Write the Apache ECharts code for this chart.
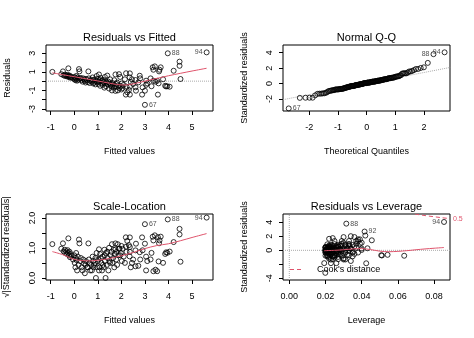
<!DOCTYPE html>
<html><head><meta charset="utf-8">
<script src="https://cdn.jsdelivr.net/npm/echarts@6/dist/echarts.min.js"></script>
<style>html,body{margin:0;padding:0;background:#fff}#c{width:474px;height:338px}</style>
</head><body><div id="c"></div>
<script>
const fittedValues = [
 -0.93,-0.55,-0.48,-0.45,-0.40,-0.38,-0.33,-0.30,-0.28,-0.25,
 -0.25,-0.22,-0.20,-0.18,-0.15,-0.12,-0.05, 0.00, 0.02, 0.05,
  0.05, 0.08, 0.10, 0.12, 0.15, 0.18, 0.20, 0.22, 0.25, 0.28,
  0.32, 0.35, 0.38, 0.42, 0.45, 0.48, 0.50, 0.55, 0.58, 0.60,
  0.62, 0.65, 0.68, 0.72, 0.75, 0.78, 0.80, 0.82, 0.85, 0.88,
  0.90, 0.92, 0.95, 0.97, 1.00, 1.02, 1.05, 1.05, 1.08, 1.10,
  1.12, 1.15, 1.18, 1.20, 1.22, 1.25, 3.00, 1.30, 1.30, 1.33,
  1.35, 1.38, 1.40, 1.42, 1.45, 1.48, 1.50, 1.52, 1.55, 1.58,
  1.60, 1.62, 1.65, 1.68, 1.70, 1.72, 1.75, 3.97, 1.78, 1.80,
  1.82, 4.47, 1.88, 5.62, 1.92, 1.95, 1.98, 2.00, 2.02, 2.05,
  2.10, 2.15, 2.20, 2.22, 2.25, 2.36, 2.35, 2.36, 2.36, 2.19,
  2.60, 2.60, 2.62, 2.78, 2.80, 2.72, 2.90, 2.88, 3.00, 1.28,
  3.24, 3.36, 3.45, 3.52, 3.58, 3.33, 3.36, 3.42, 3.67, 3.62,
  3.55, 3.86, 3.95, 3.90, 1.75, 4.22, 1.85, 4.47, 4.51, 1.90,
  3.05, 3.10, 2.50, 3.77, 3.60, 3.05, 2.45, 3.28, 4.05, 2.40,
  2.32
];
const residuals = [
  1.00, 0.75, 1.05, 0.62, 0.70, 0.55, 0.62, 0.50, 0.68, 1.38,
  0.55, 0.45, 0.60, 0.38, 0.50, 0.42, 0.30, 0.45, 0.20, 0.35,
  0.10, 0.55, 0.28, 0.05, 0.40, 0.15, 1.30, 1.05, 0.25, 0.35,
  0.10,-0.05, 0.30, 0.18, 0.02,-0.15, 0.25, 0.10,-0.10, 1.05,
  0.30,-0.20, 0.05, 0.15,-0.05, 0.40,-0.25, 0.10,-0.15, 0.20,
 -0.35, 0.00, 0.55,-0.10, 0.25,-0.30, 0.72,-0.05, 0.10,-0.50,
  0.35,-0.20, 0.05,-0.40, 0.15,-0.10,-2.55, 0.45,-0.25, 0.00,
 -0.55,-0.15, 0.60,-0.35,-0.05,-0.80,-0.25, 0.20,-0.45,-0.60,
 -1.00,-0.20,-0.35,-0.70, 0.10,-0.50, 0.72, 3.00,-0.30,-0.60,
 -0.15, 2.10,-0.45, 3.10,-0.75, 0.45,-0.55,-0.90,-0.25,-0.75,
 -0.40, 0.20, 0.85,-0.60,-1.20, 0.84, 0.41,-0.60,-1.45,-1.45,
  0.12,-0.67,-1.03, 0.58, 0.30,-0.13,-0.67,-1.45,-1.03,-0.70,
  0.30, 0.04,-0.06, 0.04,-0.24, 1.49, 1.23, 1.59, 1.49, 1.23,
 -1.45,-0.50,-0.55,-0.57,-1.05, 1.12,-1.00, 1.65, 0.23, 0.75,
 -0.40,-0.25,-0.30, 0.20, 1.05, 0.05, 0.20,-0.55,-0.60,-0.10,
 -0.95
];
const leverage = [
 0.038,0.029,0.033,0.027,0.025,0.031,0.023,0.026,0.021,0.024,
 0.028,0.022,0.035,0.020,0.024,0.027,0.021,0.023,0.030,0.020,
 0.025,0.022,0.032,0.021,0.026,0.023,0.022,0.029,0.020,0.024,
 0.027,0.021,0.023,0.034,0.020,0.025,0.022,0.028,0.021,0.025,
 0.020,0.023,0.026,0.021,0.031,0.022,0.020,0.024,0.027,0.021,
 0.023,0.020,0.029,0.022,0.025,0.021,0.033,0.020,0.023,0.026,
 0.021,0.024,0.020,0.022,0.028,0.021,0.0199,0.036,0.020,0.023,
 0.021,0.026,0.031,0.022,0.020,0.025,0.021,0.034,0.023,0.020,
 0.027,0.022,0.030,0.021,0.024,0.032,0.037,0.0315,0.026,0.021,
 0.035,0.0416,0.028,0.0855,0.022,0.033,0.025,0.030,0.038,0.027,
 0.036,0.032,0.040,0.029,0.034,0.030,0.027,0.025,0.0193,0.026,
 0.028,0.024,0.030,0.033,0.026,0.029,0.035,0.023,0.031,0.024,
 0.037,0.029,0.033,0.040,0.031,0.030,0.038,0.034,0.036,0.039,
 0.0425,0.0543,0.0508,0.0512,0.023,0.0456,0.024,0.042,0.0432,0.039,
 0.027,0.035,0.024,0.040,0.037,0.028,0.023,0.033,0.0635,0.026,
 0.022
];
const residualSE = 0.80;
const modelParams = 4;

// red smoothers / reference lines
const smoothResidFitted = [[-0.93,0.90],[-0.5,0.70],[0,0.48],[0.5,0.25],[1.0,0.02],[1.5,-0.22],[1.8,-0.36],[2.1,-0.42],[2.4,-0.35],[2.8,-0.12],[3.2,0.12],[3.6,0.35],[4.0,0.58],[4.5,0.84],[5.0,1.09],[5.62,1.39]];
const smoothScaleLoc = [[-0.93,0.88],[-0.5,0.78],[-0.2,0.68],[0,0.62],[0.3,0.58],[0.6,0.57],[1.0,0.59],[1.5,0.65],[2.0,0.74],[2.5,0.85],[3.0,0.98],[3.5,1.08],[4.0,1.14],[4.5,1.24],[5.0,1.35],[5.62,1.48]];
const smoothResidLev = [[0.0193,-0.05],[0.025,0.0],[0.03,0.08],[0.035,0.2],[0.04,0.25],[0.045,0.1],[0.05,-0.12],[0.055,-0.2],[0.06,-0.15],[0.065,-0.05],[0.07,0.08],[0.075,0.2],[0.08,0.3],[0.0855,0.4]];
const qqLine = [[-2.92,-2.09],[2.91,2.09]];
const cookContour05 = [[0.0695,5.17],[0.072,5.08],[0.076,4.93],[0.08,4.80],[0.084,4.67],[0.0887,4.53]];

// axis ticks / labels
const ticksFitted = [-1,0,1,2,3,4,5];
const ticksResid = [-3,-2,-1,0,1,2,3];
const labelsResid = [-3,-1,1,3];
const ticksTheo = [-2,-1,0,1,2];
const ticksStd = [-2,0,2,4];
const ticksSqrt = [0,0.5,1,1.5,2];
const labelsSqrt = [0,1,2];
const ticksLev = [0,0.02,0.04,0.06,0.08];
const ticksStdLev = [-4,-2,0,2,4];
const labelsStdLev = [-4,0,2,4];

const titles = ['Residuals vs Fitted','Normal Q-Q','Scale-Location','Residuals vs Leverage'];

// ---- derived quantities (as plot.lm does) ----
function qnorm(p){
 const a=[-3.969683028665376e+01,2.209460984245205e+02,-2.759285104469687e+02,1.383577518672690e+02,-3.066479806614716e+01,2.506628277459239e+00];
 const b=[-5.447609879822406e+01,1.615858368580409e+02,-1.556989798598866e+02,6.680131188771972e+01,-1.328068155288572e+01];
 const c=[-7.784894002430293e-03,-3.223964580411365e-01,-2.400758277161838e+00,-2.549671010243806e+00,4.374664141464968e+00,2.938163982698783e+00];
 const d=[7.784695709041462e-03,3.224671290700398e-01,2.445134137142996e+00,3.754408661907416e+00];
 const pl=0.02425; let q,r;
 if(p<pl){q=Math.sqrt(-2*Math.log(p));return (((((c[0]*q+c[1])*q+c[2])*q+c[3])*q+c[4])*q+c[5])/((((d[0]*q+d[1])*q+d[2])*q+d[3])*q+1);}
 if(p>1-pl){q=Math.sqrt(-2*Math.log(1-p));return -(((((c[0]*q+c[1])*q+c[2])*q+c[3])*q+c[4])*q+c[5])/((((d[0]*q+d[1])*q+d[2])*q+d[3])*q+1);}
 q=p-0.5;r=q*q;return (((((a[0]*r+a[1])*r+a[2])*r+a[3])*r+a[4])*r+a[5])*q/(((((b[0]*r+b[1])*r+b[2])*r+b[3])*r+b[4])*r+1);
}
const n = fittedValues.length;
const stdRes = residuals.map((r,i)=> r/(residualSE*Math.sqrt(1-leverage[i])));
const cooks = stdRes.map((s,i)=> s*s*leverage[i]/(modelParams*(1-leverage[i])));
const top3 = arr => arr.map((v,i)=>[Math.abs(v),i]).sort((a,b)=>b[0]-a[0]).slice(0,3).map(d=>d[1]);
const idStd = top3(stdRes);
const idCook = top3(cooks);

const FONT = '"Liberation Sans", Arial, Helvetica, sans-serif';
const RED = '#DF536B';
const lbl = (id, pos) => ({show:true, formatter:String(id), position:pos, distance:1, fontSize:7, color:'#222', fontFamily:FONT});

function pointData(xs, ys, ids, leftIds){
  return xs.map((x,i)=>{
    if(ids.includes(i)){ const id=i+1; return {value:[x,ys[i]], label:lbl(id, leftIds.includes(id)?'left':'right')}; }
    return [x,ys[i]];
  });
}
// Q-Q
const order = stdRes.map((v,i)=>i).sort((a,b)=>stdRes[a]-stdRes[b]);
const qqData = order.map((idx,k)=>{
  const x = qnorm((k+0.5)/n), y = stdRes[idx];
  if(idStd.includes(idx)){ const id=idx+1; return {value:[x,y], label:lbl(id, [88,94].includes(id)?'left':'right')}; }
  return [x,y];
});
const p1 = pointData(fittedValues, residuals, idStd, [94]);
const p3 = pointData(fittedValues, stdRes.map(s=>Math.sqrt(Math.abs(s))), idStd, [94]);
const p4 = pointData(leverage, stdRes, idCook, [94]);

const grids = [
 {left:46, top:45, width:167, height:66},
 {left:283, top:45, width:167, height:66},
 {left:46, top:214, width:167, height:66},
 {left:283, top:214, width:167, height:66}
].map(g=>Object.assign(g,{show:true, borderColor:'#000', borderWidth:1, backgroundColor:'transparent'}));

function xAx(gi,min,max,ticks,labels,fmt,name){
  return {type:'value', gridIndex:gi, min, max, name, nameLocation:'middle', nameGap:36, position:'bottom',
    nameTextStyle:{fontSize:9, color:'#000', fontFamily:FONT},
    axisLine:{show:false, onZero:false}, splitLine:{show:false},
    axisTick:{show:true, length:4, customValues:ticks, lineStyle:{color:'#000', width:1}},
    axisLabel:{show:true, customValues:labels, formatter:fmt, fontSize:9, color:'#000', margin:12, fontFamily:FONT}};
}
function yAx(gi,min,max,ticks,labels,fmt,name,gap){
  return {type:'value', gridIndex:gi, min, max, name, nameLocation:'middle', nameGap:gap, nameRotate:90, position:'left',
    nameTextStyle:{fontSize:9, color:'#000', fontFamily:FONT},
    axisLine:{show:false, onZero:false}, splitLine:{show:false},
    axisTick:{show:true, length:4, customValues:ticks, lineStyle:{color:'#000', width:1}},
    axisLabel:{show:true, customValues:labels, formatter:fmt, rotate:90, fontSize:9, color:'#000', margin:9, fontFamily:FONT}};
}
const f0 = v=>String(v), f1 = v=>v.toFixed(1), f2 = v=>v.toFixed(2);

const sym = {symbol:'circle', symbolSize:5, itemStyle:{color:'rgba(0,0,0,0)', borderColor:'#000', borderWidth:1}};
const dotted = (c)=>({color:c||'#aaa', type:'dotted', width:1});

const option = {
  animation:false,
  textStyle:{fontFamily:FONT},
  grid: grids,
  xAxis:[
    xAx(0,-1.199,5.89,ticksFitted,ticksFitted,f0,'Fitted values'),
    xAx(1,-2.915,2.904,ticksTheo,ticksTheo,f0,'Theoretical Quantiles'),
    xAx(2,-1.199,5.89,ticksFitted,ticksFitted,f0,'Fitted values'),
    xAx(3,-0.00348,0.0888,ticksLev,ticksLev,f2,'Leverage')
  ],
  yAxis:[
    yAx(0,-3.216,3.894,ticksResid,labelsResid,f0,'Residuals',34),
    yAx(1,-3.555,5.0,ticksStd,ticksStd,f0,'Standardized residuals',34),
    yAx(2,-0.067,2.133,ticksSqrt,labelsSqrt,f1,'\u221A|Standardized residuals|',35),
    yAx(3,-4.24,5.19,ticksStdLev,labelsStdLev,f0,'Standardized residuals',34)
  ],
  series:[
    {type:'line', xAxisIndex:0, yAxisIndex:0, data:[[-1.199,0],[5.89,0]], showSymbol:false, symbol:'none', lineStyle:dotted(), z:1},
    Object.assign({type:'scatter', xAxisIndex:0, yAxisIndex:0, data:p1, z:3}, sym),
    {type:'line', xAxisIndex:0, yAxisIndex:0, data:smoothResidFitted, smooth:0.3, symbol:'none', lineStyle:{color:RED, width:1}, z:4},

    {type:'line', xAxisIndex:1, yAxisIndex:1, data:qqLine, symbol:'none', lineStyle:dotted(), z:1},
    Object.assign({type:'scatter', xAxisIndex:1, yAxisIndex:1, data:qqData, z:3}, sym),

    Object.assign({type:'scatter', xAxisIndex:2, yAxisIndex:2, data:p3, z:3}, sym),
    {type:'line', xAxisIndex:2, yAxisIndex:2, data:smoothScaleLoc, smooth:0.3, symbol:'none', lineStyle:{color:RED, width:1}, z:4},

    {type:'line', xAxisIndex:3, yAxisIndex:3, data:[[-0.00348,0],[0.0888,0]], symbol:'none', lineStyle:dotted(), z:1},
    {type:'line', xAxisIndex:3, yAxisIndex:3, data:[[0,-4.24],[0,5.19]], symbol:'none', lineStyle:dotted(), z:1},
    Object.assign({type:'scatter', xAxisIndex:3, yAxisIndex:3, data:p4, z:3}, sym),
    {type:'line', xAxisIndex:3, yAxisIndex:3, data:smoothResidLev, smooth:0.3, symbol:'none', lineStyle:{color:RED, width:1}, z:4},
    {type:'line', xAxisIndex:3, yAxisIndex:3, data:cookContour05, smooth:0.3, symbol:'none', clip:true, lineStyle:{color:RED, width:1, type:[4,3]}, z:4}
  ],
  graphic:[
    {type:'text', x:129.5, y:37.5, style:{text:titles[0], fontSize:11, fill:'#000', textAlign:'center', textVerticalAlign:'middle', fontFamily:FONT}},
    {type:'text', x:366.5, y:37.5, style:{text:titles[1], fontSize:11, fill:'#000', textAlign:'center', textVerticalAlign:'middle', fontFamily:FONT}},
    {type:'text', x:129.5, y:206.5, style:{text:titles[2], fontSize:11, fill:'#000', textAlign:'center', textVerticalAlign:'middle', fontFamily:FONT}},
    {type:'text', x:366.5, y:206.5, style:{text:titles[3], fontSize:11, fill:'#000', textAlign:'center', textVerticalAlign:'middle', fontFamily:FONT}},
    {type:'line', shape:{x1:1.5, y1:198, x2:1.5, y2:289}, style:{stroke:'#444', lineWidth:1}, z:10},
    {type:'line', shape:{x1:290, y1:269.5, x2:304, y2:269.5}, style:{stroke:RED, lineWidth:1, lineDash:[4,3]}, z:10},
    {type:'text', x:317, y:270, style:{text:"Cook's distance", fontSize:9, fill:'#000', textAlign:'left', textVerticalAlign:'middle', fontFamily:FONT}, z:10},
    {type:'text', x:453, y:219, style:{text:'0.5', fontSize:7, fill:RED, textAlign:'left', textVerticalAlign:'middle', fontFamily:FONT}, z:10}
  ]
};
echarts.init(document.getElementById('c'), null, {renderer:'canvas'}).setOption(option);
</script></body></html>
